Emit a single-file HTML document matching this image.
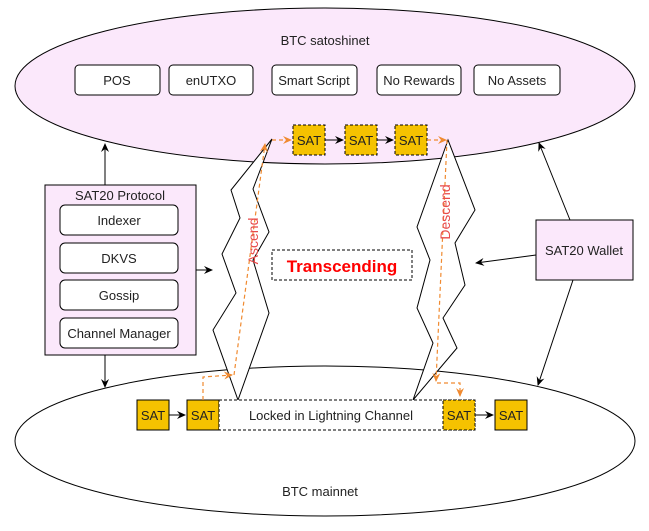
<!DOCTYPE html>
<html><head><meta charset="utf-8"><style>
html,body{margin:0;padding:0;background:#fff;}
svg{display:block;font-family:"Liberation Sans",sans-serif;}
</style></head><body>
<svg width="649" height="531" viewBox="0 0 649 531" xmlns="http://www.w3.org/2000/svg">
<defs>
<marker id="a" markerWidth="10" markerHeight="10" refX="8" refY="5" orient="auto" markerUnits="userSpaceOnUse"><path d="M0,1 L9,5 L0,9 L3,5 Z" fill="#000"/></marker>
<marker id="o" markerWidth="10" markerHeight="10" refX="8" refY="5" orient="auto" markerUnits="userSpaceOnUse"><path d="M0,1 L9,5 L0,9 L3,5 Z" fill="#f08a30"/></marker>
</defs>
<ellipse cx="325" cy="86" rx="310" ry="78" fill="#fbe8fb" stroke="#000" stroke-width="1"/>
<ellipse cx="325" cy="441" rx="310" ry="75" fill="#fff" stroke="#000" stroke-width="1"/>
<text x="325" y="45" font-size="13" text-anchor="middle" fill="#222">BTC satoshinet</text>
<text x="320" y="496" font-size="13" text-anchor="middle" fill="#222">BTC mainnet</text>
<g fill="#fff" stroke="#000" font-size="13" text-anchor="middle">
<rect x="75" y="65" width="85" height="30" rx="4"/>
<rect x="169" y="65" width="84" height="30" rx="4"/>
<rect x="272" y="65" width="85" height="30" rx="4"/>
<rect x="377" y="65" width="84" height="30" rx="4"/>
<rect x="474" y="65" width="86" height="30" rx="4"/>
</g>
<g font-size="13" text-anchor="middle" fill="#222">
<text x="117" y="85">POS</text><text x="211" y="85">enUTXO</text><text x="314" y="85">Smart Script</text><text x="419" y="85">No Rewards</text><text x="517" y="85">No Assets</text>
</g>
<path d="M272,139 L231,190 L240,218 L222,254 L236,293 L213,330 L238,400 L269,313 L253,260 L269,232 L253,189 Z" fill="#fff" stroke="#000" stroke-width="1"/>
<path d="M448,140 L417,227 L430,260 L417,308 L433,343 L413,400 L457,348 L443,318 L465,285 L455,243 L475,210 Z" fill="#fff" stroke="#000" stroke-width="1"/>
<rect x="45" y="185" width="151" height="170" fill="#fbe8fb" stroke="#000"/>
<text x="120" y="200" font-size="13" text-anchor="middle" fill="#222">SAT20 Protocol</text>
<g fill="#fff" stroke="#000"><rect x="60" y="205" width="118" height="30" rx="5"/><rect x="60" y="243" width="118" height="30" rx="5"/><rect x="60" y="280" width="118" height="30" rx="5"/><rect x="60" y="318" width="118" height="30" rx="5"/></g>
<g font-size="13" text-anchor="middle" fill="#222"><text x="119" y="225">Indexer</text><text x="119" y="263">DKVS</text><text x="119" y="300">Gossip</text><text x="119" y="338">Channel Manager</text></g>
<rect x="536" y="220" width="97" height="60" fill="#fbe8fb" stroke="#000"/>
<text x="584" y="255" font-size="13" text-anchor="middle" fill="#222">SAT20 Wallet</text>
<g stroke="#000" stroke-width="1" fill="none">
<line x1="105" y1="185" x2="105" y2="144" marker-end="url(#a)"/>
<line x1="105" y1="355" x2="105" y2="387" marker-end="url(#a)"/>
<line x1="196" y1="270" x2="212" y2="270" marker-end="url(#a)"/>
<line x1="536" y1="255" x2="476" y2="263" marker-end="url(#a)"/>
<line x1="570" y1="220" x2="539" y2="143" marker-end="url(#a)"/>
<line x1="573" y1="280" x2="538" y2="385" marker-end="url(#a)"/>
<line x1="325" y1="140" x2="343" y2="140" marker-end="url(#a)"/>
<line x1="377" y1="140" x2="393" y2="140" marker-end="url(#a)"/>
<line x1="169" y1="415" x2="185" y2="415" marker-end="url(#a)"/>
<line x1="475" y1="415" x2="493" y2="415" marker-end="url(#a)"/>
</g>
<g fill="#f5c200" stroke="#000">
<rect x="293" y="125" width="32" height="30" stroke-dasharray="3,2"/>
<rect x="345" y="125" width="32" height="30" stroke-dasharray="3,2"/>
<rect x="395" y="125" width="32" height="30" stroke-dasharray="3,2"/>
<rect x="137" y="400" width="32" height="30"/>
<rect x="187" y="400" width="32" height="30"/>
<rect x="219" y="400" width="256" height="30" fill="#fff" stroke-dasharray="3,2"/>
<rect x="443" y="400" width="32" height="30" stroke-dasharray="3,2"/>
<rect x="495" y="400" width="32" height="30"/>
</g>
<g font-size="13" text-anchor="middle" fill="#222">
<text x="309" y="145">SAT</text><text x="361" y="145">SAT</text><text x="411" y="145">SAT</text>
<text x="153" y="420">SAT</text><text x="203" y="420">SAT</text><text x="459" y="420">SAT</text><text x="511" y="420">SAT</text>
<text x="331" y="420">Locked in Lightning Channel</text>
</g>
<g stroke="#f08a30" stroke-width="1.2" fill="none" stroke-dasharray="4,3">
<path d="M203,400 L203,377 L232,375" marker-end="url(#o)"/>
<path d="M234,375 L265,144" marker-end="url(#o)"/>
<path d="M272,140 L291,140" marker-end="url(#o)"/>
<path d="M427,140 L446,140" marker-end="url(#o)"/>
<path d="M447,140 L436,381" marker-end="url(#o)"/>
<path d="M437,383 L460,383 L460,396" marker-end="url(#o)"/>
</g>
<text transform="translate(258,241) rotate(-90)" font-size="14" text-anchor="middle" fill="#e84b4b">Ascend</text>
<text transform="translate(450,212) rotate(-90)" font-size="14" text-anchor="middle" fill="#e84b4b">Descend</text>
<rect x="272" y="250" width="140" height="30" fill="#fff" stroke="#000" stroke-dasharray="3,2"/>
<text x="342" y="272" font-size="17" font-weight="bold" text-anchor="middle" fill="#ff0000">Transcending</text>
</svg>
</body></html>
